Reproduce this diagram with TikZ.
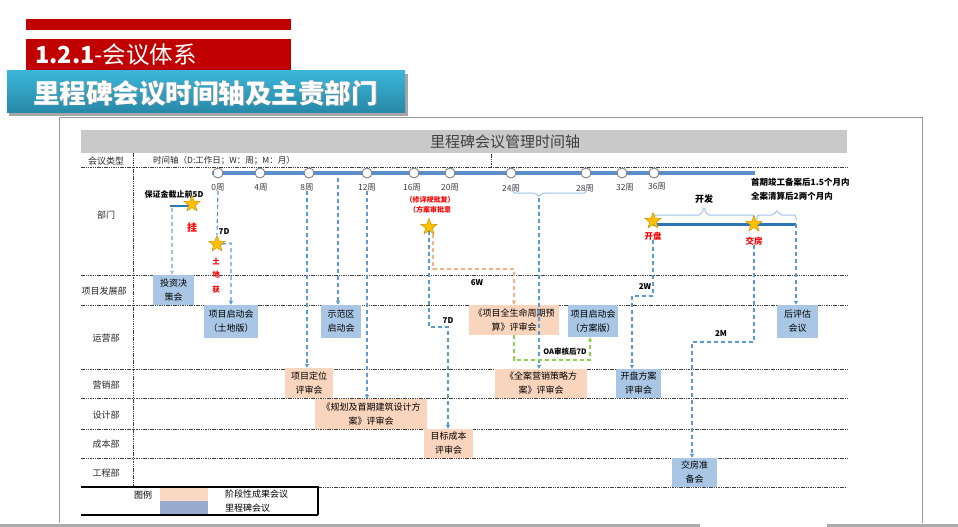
\documentclass[tikz,border=0pt]{standalone}
\usepackage{fontspec}
\setmainfont{Noto Sans CJK SC}
\usetikzlibrary{shapes.geometric,arrows.meta}
\definecolor{redbar}{HTML}{C00000}
\definecolor{bantop}{HTML}{3AB6D9}
\definecolor{banbot}{HTML}{2889A8}
\definecolor{tlblue}{HTML}{5A8FCB}
\definecolor{dblue}{HTML}{5B9BD5}
\definecolor{lblue}{HTML}{9DC3E6}
\definecolor{thickblue}{HTML}{2E75B6}
\definecolor{boxblue}{HTML}{A9C7E4}
\definecolor{boxor}{HTML}{F9D5BE}
\definecolor{legor}{HTML}{FAD9C2}
\definecolor{legblue}{HTML}{97ABCE}
\definecolor{dgreen}{HTML}{92D050}
\definecolor{dorange}{HTML}{F4B183}
\definecolor{starfill}{HTML}{FFC000}
\definecolor{starline}{HTML}{C99400}
\definecolor{band}{HTML}{C9C9C9}
\definecolor{starred}{HTML}{FF0000}
\begin{document}
\begin{tikzpicture}[x=1pt,y=-1pt,
  lab/.style={inner sep=0pt,font=\fontsize{9}{11}\selectfont},
  wk/.style={inner sep=0pt,font=\fontsize{8.5}{10}\selectfont,text=black!75},
  redlab/.style={inner sep=0pt,text=starred,font=\bfseries\fontsize{8.5}{10}\selectfont},
  boldlab/.style={inner sep=0pt,font=\bfseries\fontsize{8}{10}\selectfont},
  rowlab/.style={inner sep=0pt,font=\fontsize{9}{11}\selectfont,text=black!85},
  boxb/.style={fill=boxblue,inner sep=0pt,align=center,font=\fontsize{9}{14}\selectfont},
  boxo/.style={fill=boxor,inner sep=0pt,align=center,font=\fontsize{9}{14}\selectfont},
  circ/.style={circle,minimum size=10pt,inner sep=0pt,fill=white,draw=black!55,line width=0.8pt},
  mstar/.style={star,star points=5,star point ratio=2.4,minimum size=17pt,inner sep=0pt,fill=starfill,draw=starline,line width=0.5pt},
  rowline/.style={draw=black!75,line width=0.7pt,dash pattern=on 1.5pt off 0.8pt},
  dl/.style={draw=dblue,line width=1.2pt,dash pattern=on 4pt off 3pt,-{Triangle[length=4pt,width=4pt]}},
  dlp/.style={draw=dblue,line width=1.2pt,dash pattern=on 4pt off 3pt},
  dll/.style={draw=lblue,line width=1.2pt,dash pattern=on 4pt off 3pt,-{Triangle[length=4pt,width=4pt]}},
  brace/.style={draw=lblue,line width=1pt,rounded corners=2pt},
]
\useasboundingbox (0,0) rectangle (958,527);
% ---------- header ----------
\fill[redbar] (26,19) rectangle (291,30);
\fill[redbar] (26,39) rectangle (291,71);
\node[anchor=west,inner sep=0pt,text=white,font=\fontsize{23.5}{25}\selectfont] (ttl) at (35,55) {\textbf{1.2.1}-会议体系};
\fill[black!35] (9,74) rectangle (408,116);
\shade[top color=bantop,bottom color=banbot] (7,71) rectangle (405,112);
\node[anchor=west,inner sep=0pt,text=black!40,font=\bfseries\fontsize{26.5}{28}\selectfont] (bant2) at (33.8,93.8) {里程碑会议时间轴及主责部门};
\node[anchor=west,inner sep=0pt,text=white,font=\bfseries\fontsize{26.5}{28}\selectfont] (bant) at (33,93) {里程碑会议时间轴及主责部门};
% ---------- frame ----------
\draw[black!40,line width=0.8pt] (59,523) |- (922,117) -- (922,523);
\fill[black!33] (0,524) rectangle (700,527);
\fill[black!33] (827,524) rectangle (958,527);
% ---------- table ----------
\fill[band] (81,130) rectangle (847,153);
\node[inner sep=0pt,text=black!75,font=\fontsize{15}{17}\selectfont] (ctitle) at (505,142) {里程碑会议管理时间轴};
\node[rowlab] (hdr1) at (106,161) {会议类型};
\node[anchor=west,inner sep=0pt,font=\fontsize{8.5}{10}\selectfont,text=black!85] (hdr2) at (153,161) {时间轴（D:工作日；W：周；M：月）};
\draw[rowline] (133,153) -- (133,487);
\draw[rowline] (491,154) -- (491,166);
\foreach \yy in {167,275,305,369,398,429,458}{\draw[rowline] (81,\yy) -- (847,\yy);}
\draw[rowline] (318,487) -- (847,487);
\node[rowlab] (r0) at (106,215) {部门};
\node[rowlab] (r1) at (104,291) {项目发展部};
\node[rowlab] (r2) at (106,338) {运营部};
\node[rowlab] (r3) at (106,385) {营销部};
\node[rowlab] (r4) at (106,415) {设计部};
\node[rowlab] (r5) at (106,444) {成本部};
\node[rowlab] (r6) at (106,473) {工程部};
% ---------- legend ----------
\fill[legor] (160,487) rectangle (208,500.5);
\fill[legblue] (160,500.5) rectangle (208,515);
\draw[black,line width=1.2pt] (81,487) -- (318,487) -- (318,515);
\draw[black,line width=1.5pt] (81,515) -- (318,515);
\node[lab] (lg0) at (143,495) {图例};
\node[lab,anchor=west] (lg1) at (225,494) {阶段性成果会议};
\node[lab,anchor=west] (lg2) at (225,508) {里程碑会议};
% ---------- timeline ----------
\coordinate (tlS) at (212,173);
\coordinate (tlE) at (755,173);
\draw[tlblue,line width=4pt] (tlS) -- (tlE);
\node[circ] (w0) at (218,173) {};
\node[circ] (w4) at (260,173) {};
\node[circ] (w8) at (309,173) {};
\node[circ] (w12) at (367,173) {};
\node[circ] (w16) at (414,173) {};
\node[circ] (w20) at (450,173) {};
\node[circ] (w24) at (511,173) {};
\node[circ] (w28) at (586,173) {};
\node[circ] (w32) at (622,173) {};
\node[circ] (w36) at (654,173) {};
\node[wk] (l0) at (218,187) {0周};
\node[wk] (l4) at (261,187) {4周};
\node[wk] (l8) at (307,187) {8周};
\node[wk] (l12) at (367,187) {12周};
\node[wk] (l16) at (412,187) {16周};
\node[wk] (l20) at (450,187) {20周};
\node[wk] (l24) at (511,188) {24周};
\node[wk] (l28) at (585,188) {28周};
\node[wk] (l32) at (625,187) {32周};
\node[wk] (l36) at (657,186) {36周};
% ---------- boxes ----------
\node[boxb,minimum width=41pt,minimum height=30pt] (tzj) at (173.5,290) {投资决\\策会};
\node[boxb,minimum width=54pt,minimum height=33pt] (qdt) at (231,321.5) {项目启动会\\（土地版）};
\node[boxb,minimum width=40pt,minimum height=33pt] (sfq) at (341,321.5) {示范区\\启动会};
\node[boxo,minimum width=48pt,minimum height=30pt] (xmdw) at (309,383) {项目定位\\评审会};
\node[boxo,minimum width=112pt,minimum height=30pt] (ghsj) at (371,414) {《规划及首期建筑设计方\\案》评审会};
\node[boxo,minimum width=49pt,minimum height=29pt] (mbcb) at (448.5,443.5) {目标成本\\评审会};
\node[boxo,minimum width=90pt,minimum height=30pt] (qsm) at (514,320) {《项目全生命周期预\\算》评审会};
\node[boxb,minimum width=50pt,minimum height=32pt] (qdf) at (593,321) {项目启动会\\（方案版）};
\node[boxo,minimum width=92pt,minimum height=29pt] (qyx) at (541,383.5) {《全案营销策略方\\案》评审会};
\node[boxb,minimum width=45pt,minimum height=29pt] (kpfa) at (638.5,383.5) {开盘方案\\评审会};
\node[boxb,minimum width=41pt,minimum height=33pt] (hpg) at (797.5,321.5) {后评估\\会议};
\node[boxb,minimum width=45pt,minimum height=29pt] (jfzb) at (694.5,472.5) {交房准\\备会};
% ---------- left part ----------
\node[boldlab] (bzj) at (174,194) {保证金截止前5D};
\coordinate (bzS) at (170,206);
\coordinate (bzE) at (190,206);
\draw[thickblue,line width=2.5pt] (bzS) -- (bzE);
\draw[dll] (172,208) -- (172,208 |- tzj.north);
\node[mstar] (s1) at (192,204) {};
\node[redlab,font=\bfseries\fontsize{10}{12}\selectfont] (gua) at (192,228) {挂};
\node[boldlab] (d7a) at (224,232) {7D};
\node[mstar] (s0) at (217,244) {};
\draw[dlp] (l0.south) -- (s0.north);
\coordinate (c0a) at (231,243);
\draw[dl] (s0.east) -- (c0a) -- (c0a |- qdt.north);
\node[redlab,font=\bfseries\fontsize{7.5}{9}\selectfont] (td1) at (216,261) {土};
\node[redlab,font=\bfseries\fontsize{7.5}{9}\selectfont] (td2) at (216,275) {地};
\node[redlab,font=\bfseries\fontsize{7.5}{9}\selectfont] (td3) at (216,290) {获};
\draw[dl] (l8.south) -- (l8.south |- xmdw.north);
\draw[dl] (l12.south) -- (l12.south |- ghsj.north);
\coordinate (sfqT) at (338,178);
\draw[dl] (sfqT) -- (sfqT |- sfq.north);
% ---------- 16 weeks ----------
\node[redlab,font=\bfseries\fontsize{7}{8}\selectfont] (p1) at (430,200) {（修详规批复）};
\node[redlab,font=\bfseries\fontsize{7}{8}\selectfont] (p2) at (430,210) {（方案审批意};
\node[mstar] (s16) at (429,227) {};
\coordinate (c16a) at (429,327);
\coordinate (c16b) at (448,327);
\draw[dl] (s16.south) -- (c16a) -- (c16b) -- (c16b |- mbcb.north);
\node[boldlab] (d7b) at (448,321) {7D};
\coordinate (o16a) at (433,269);
\coordinate (o16b) at (514,269);
\draw[draw=dorange,line width=1.2pt,dash pattern=on 4pt off 3pt,-{Triangle[length=4pt,width=4pt]}] (433,234) -- (o16a) -- (o16b) -- (qsm.north);
\node[boldlab] (w6) at (477,283) {6W};
% ---------- 24-28 weeks ----------
\draw[brace] (513,188) |- (536,193) -- (539,197) -- (542,193) -| (586,188);
\draw[dl] (539,198) -- (539,198 |- qyx.north);
\coordinate (g1) at (514,360);
\coordinate (g2) at (590,360);
\draw[draw=dgreen,line width=1.2pt,dash pattern=on 4pt off 3pt,-{Triangle[length=4pt,width=4pt]}] (qsm.south) -- (g1) -- (g2) -- (g2 |- qdf.south);
\node[boldlab,font=\bfseries\fontsize{7.5}{9}\selectfont,fill=white,inner sep=0.5pt] (oa) at (565,352) {OA审核后7D};
% ---------- 36 weeks onward ----------
\coordinate (dvS) at (653,224);
\coordinate (dvE) at (796,224);
\draw[thickblue,line width=3pt] (dvS) -- (dvE);
\draw[brace] (653,220) |- (701,215) -- (704,207) -- (707,215) -| (754,220);
\draw[brace] (757,220) |- (774,215) -- (777,210) -- (780,215) -| (796,220);
\node[boldlab,font=\bfseries\fontsize{9}{11}\selectfont] (kf) at (704,199) {开发};
\node[boldlab,anchor=west,font=\bfseries\fontsize{8.5}{10}\selectfont] (t1) at (751,182) {首期竣工备案后1.5个月内};
\node[boldlab,anchor=west,font=\bfseries\fontsize{8.5}{10}\selectfont] (t2) at (751,196) {全案清算后2两个月内};
\node[mstar] (skp) at (653,221) {};
\node[mstar] (sjf) at (754,224) {};
\node[redlab,font=\bfseries\fontsize{8.5}{10}\selectfont] (kp) at (653,236) {开盘};
\node[redlab,font=\bfseries\fontsize{8.5}{10}\selectfont] (jf) at (754,241) {交房};
\coordinate (k1) at (653,296);
\coordinate (k2) at (632,296);
\draw[dl] (kp.south) -- (k1) -- (k2) -- (k2 |- kpfa.north);
\node[boldlab] (w2) at (645,287) {2W};
\coordinate (j1) at (754,342);
\coordinate (j2) at (692,342);
\draw[dl] (jf.south) -- (j1) -- (j2) -- (j2 |- jfzb.north);
\node[boldlab] (m2) at (721,334) {2M};
\draw[dl] (dvE) -- (dvE |- hpg.north);
\end{tikzpicture}
\end{document}
